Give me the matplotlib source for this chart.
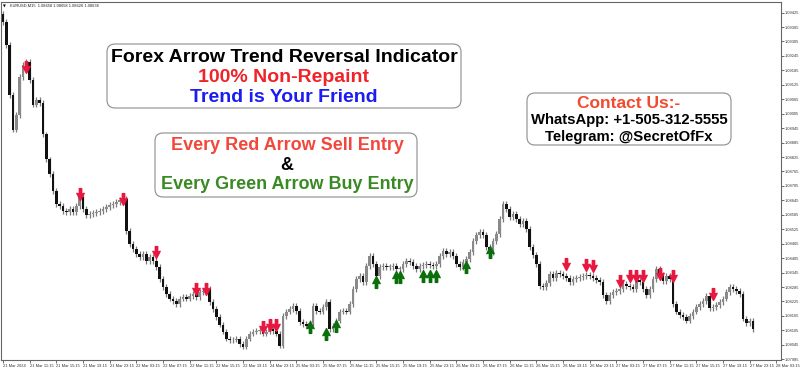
import numpy as np
import matplotlib
matplotlib.use("Agg")
import matplotlib.pyplot as plt
from matplotlib.path import Path
from matplotlib.patches import FancyBboxPatch

plt.rcParams['font.family'] = ['Liberation Sans', 'DejaVu Sans']

# ---------------- data (EURUSD M15, sampled every other bar) ----------------
first_open = 1.09420
close = [
    1.09386, 1.09291, 1.09084, 1.08939, 1.09001, 1.09159, 1.09208, 1.09221, 1.09146, 1.09043,
    1.09064, 1.09051, 1.08919, 1.08815, 1.08753, 1.08683, 1.08629, 1.08621, 1.08600, 1.08596,
    1.08609, 1.08596, 1.08621, 1.08658, 1.08609, 1.08584, 1.08588, 1.08592, 1.08596, 1.08600,
    1.08609, 1.08617, 1.08625, 1.08629, 1.08638, 1.08646, 1.08650, 1.08518, 1.08464, 1.08443,
    1.08423, 1.08410, 1.08423, 1.08394, 1.08410, 1.08394, 1.08369, 1.08319, 1.08286, 1.08257,
    1.08237, 1.08228, 1.08216, 1.08237, 1.08245, 1.08237, 1.08249, 1.08257, 1.08245, 1.08265,
    1.08270, 1.08278, 1.08224, 1.08195, 1.08162, 1.08129, 1.08100, 1.08071, 1.08063, 1.08067,
    1.08071, 1.08050, 1.08038, 1.08071, 1.08092, 1.08100, 1.08104, 1.08108, 1.08092, 1.08100,
    1.08112, 1.08104, 1.08092, 1.08042, 1.08166, 1.08183, 1.08195, 1.08208, 1.08187, 1.08141,
    1.08133, 1.08125, 1.08137, 1.08208, 1.08187, 1.08183, 1.08203, 1.08224, 1.08112, 1.08125,
    1.08146, 1.08183, 1.08187, 1.08183, 1.08216, 1.08278, 1.08319, 1.08332, 1.08307, 1.08373,
    1.08414, 1.08381, 1.08332, 1.08369, 1.08373, 1.08369, 1.08369, 1.08373, 1.08361, 1.08361,
    1.08381, 1.08394, 1.08390, 1.08373, 1.08361, 1.08373, 1.08377, 1.08381, 1.08377, 1.08373,
    1.08381, 1.08414, 1.08435, 1.08423, 1.08431, 1.08414, 1.08381, 1.08369, 1.08390, 1.08402,
    1.08431, 1.08476, 1.08501, 1.08514, 1.08501, 1.08452, 1.08431, 1.08476, 1.08505, 1.08567,
    1.08629, 1.08609, 1.08576, 1.08588, 1.08567, 1.08547, 1.08559, 1.08526, 1.08452, 1.08418,
    1.08381, 1.08290, 1.08286, 1.08303, 1.08340, 1.08323, 1.08344, 1.08340, 1.08332, 1.08323,
    1.08307, 1.08319, 1.08323, 1.08328, 1.08332, 1.08336, 1.08332, 1.08323, 1.08315, 1.08307,
    1.08253, 1.08228, 1.08253, 1.08265, 1.08270, 1.08278, 1.08299, 1.08290, 1.08286, 1.08278,
    1.08315, 1.08307, 1.08278, 1.08253, 1.08278, 1.08319, 1.08361, 1.08336, 1.08311, 1.08332,
    1.08319, 1.08216, 1.08183, 1.08170, 1.08162, 1.08146, 1.08166, 1.08183, 1.08203, 1.08216,
    1.08228, 1.08249, 1.08199, 1.08203, 1.08212, 1.08224, 1.08237, 1.08265, 1.08286, 1.08278,
    1.08270, 1.08257, 1.08154, 1.08137, 1.08146, 1.08112,
]

sell_idx = [7, 23, 36, 46, 58, 61, 78, 80, 82, 169, 175, 177, 185, 188, 190, 192, 197, 201, 213]
sell_price = [1.09200, 1.08671, 1.08650, 1.08431, 1.08278, 1.08278, 1.08121, 1.08129, 1.08129,
              1.08381, 1.08377, 1.08373, 1.08311, 1.08332, 1.08332, 1.08332, 1.08340, 1.08332, 1.08257]
buy_idx = [92, 97, 100, 112, 118, 119, 126, 128, 130, 139, 146]
buy_price = [1.08121, 1.08092, 1.08125, 1.08307, 1.08328, 1.08328, 1.08332, 1.08332, 1.08332,
             1.08369, 1.08431]

x_labels = ["21 Mar 2024", "21 Mar 11:15", "21 Mar 15:15", "21 Mar 19:15", "21 Mar 23:15",
            "22 Mar 03:15", "22 Mar 07:15", "22 Mar 11:15", "22 Mar 15:15", "22 Mar 19:15",
            "24 Mar 23:15", "25 Mar 03:15", "25 Mar 07:15", "25 Mar 11:15", "25 Mar 15:15",
            "25 Mar 19:15", "25 Mar 23:15", "26 Mar 03:15", "26 Mar 07:15", "26 Mar 11:15",
            "26 Mar 15:15", "26 Mar 19:15", "26 Mar 23:15", "27 Mar 03:15", "27 Mar 07:15",
            "27 Mar 11:15", "27 Mar 15:15", "27 Mar 19:15", "27 Mar 23:15", "28 Mar 03:15"]
y_tick_values = [1.07985 + 0.0006 * k for k in range(25)]
header = "EURUSD,M15  1.08658 1.08658 1.08626 1.08636"

# ---------------- figure ----------------
W, H = 800, 371
fig = plt.figure(figsize=(W / 100, H / 100), dpi=100)
ax = fig.add_axes([1 / W, 11 / H, 780 / W, 358 / H])

c = np.array(close)
o = np.r_[first_open, c[:-1]]
idx = np.arange(len(c))
wick = 0.00012
hi = np.maximum(o, c) + wick
lo = np.minimum(o, c) - wick
up = c >= o

ax.vlines(idx, lo, hi, color="#7a7a7a", lw=0.9, zorder=2)
body = np.maximum(np.abs(c - o), 0.00003)
ax.bar(idx[up], body[up], bottom=o[up], width=0.8, color="#8a8a8a", zorder=3, linewidth=0)
ax.bar(idx[~up], body[~up], bottom=c[~up], width=0.8, color="#111111", zorder=3, linewidth=0)

down_arrow = Path([(-0.2, 1.0), (0.2, 1.0), (0.2, 0.05), (0.62, 0.2), (0.0, -1.0),
                   (-0.62, 0.2), (-0.2, 0.05), (-0.2, 1.0)],
                  [Path.MOVETO] + [Path.LINETO] * 6 + [Path.CLOSEPOLY])
up_arrow = Path([(x, -y) for x, y in down_arrow.vertices], down_arrow.codes)
ax.plot(sell_idx, sell_price, ls="none", marker=down_arrow, ms=8.5, color="#e8173f", zorder=4)
ax.plot(buy_idx, buy_price, ls="none", marker=up_arrow, ms=8.5, color="#0a6e0a", zorder=4)

ax.set_xlim(-0.6, 233.4)
ax.set_ylim(1.07982, 1.09469)
ax.set_xticks(np.arange(0, 8 * len(x_labels), 8))
ax.set_xticklabels(x_labels, fontsize=2.9, ha="left")
ax.set_yticks(y_tick_values)
ax.set_yticklabels([f"{v:.5f}" for v in y_tick_values], fontsize=2.9)
ax.yaxis.tick_right()
ax.tick_params(axis="both", direction="out", length=2, width=0.5, pad=1, colors="#333333")
for s in ax.spines.values():
    s.set_color("#666666")
    s.set_linewidth(0.8)

fig.text(3 / W, 1 - 6 / H, "\u25BC", fontsize=2.6, va="center", family="DejaVu Sans")
fig.text(10 / W, 1 - 6 / H, header, fontsize=2.9, va="center", color="#222222")


def box(l, t, r, b):
    p = FancyBboxPatch((l / 100, (H - b) / 100), (r - l) / 100, (b - t) / 100,
                       boxstyle="round,pad=0,rounding_size=0.08",
                       transform=fig.dpi_scale_trans, facecolor="white",
                       edgecolor="#8c8c8c", lw=0.8, zorder=10)
    fig.patches.append(p)


def txt(cx, cy, s, color, size):
    fig.text(cx / W, 1 - cy / H, s, color=color, fontsize=size, fontweight="bold",
             ha="center", va="center", zorder=11)


box(107, 44, 461, 108)
txt(284, 57, "Forex Arrow Trend Reversal Indicator", "black", 14)
txt(284, 77, "100% Non-Repaint", "#f0232a", 14)
txt(284, 98, "Trend is Your Friend", "#1c1cf2", 14)

box(155, 133, 417, 197)
txt(287, 146, "Every Red Arrow Sell Entry", "#f2473a", 13)
txt(287, 165, "&", "black", 13)
txt(287, 185, "Every Green Arrow Buy Entry", "#3a8a24", 13)

box(527, 93, 731, 145)
txt(629, 103, "Contact Us:-", "#f24a2e", 12.5)
txt(629, 120, "WhatsApp: +1-505-312-5555", "black", 10.7)
txt(629, 137, "Telegram: @SecretOfFx", "black", 10.7)

fig.savefig("out.png", dpi=100)
